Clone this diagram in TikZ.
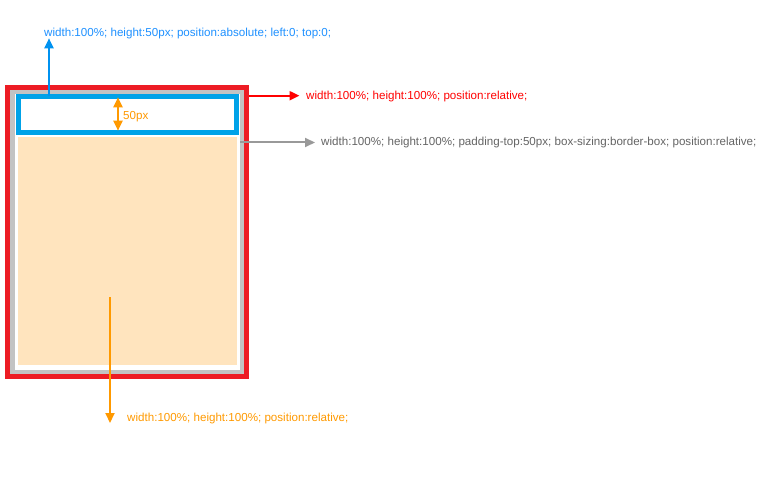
\documentclass[tikz,border=0pt]{standalone}
\usepackage{fontspec}
\setmainfont{Liberation Sans}
\usetikzlibrary{arrows.meta}
\definecolor{boxred}{RGB}{237,28,36}
\definecolor{boxgray}{RGB}{195,195,195}
\definecolor{boxblue}{RGB}{0,162,232}
\definecolor{beige}{RGB}{255,228,190}
\definecolor{arrblue}{RGB}{0,146,240}
\definecolor{txtblue}{RGB}{30,144,255}
\definecolor{arrred}{RGB}{255,0,0}
\definecolor{arrgray}{RGB}{153,153,153}
\definecolor{txtgray}{RGB}{100,100,100}
\definecolor{orange}{RGB}{255,153,0}
\tikzset{
  box/.style={rectangle, inner sep=0pt, outer sep=0pt, anchor=north west},
  tip/.style={-{Triangle[length=10pt,width=9pt]}, line width=2pt},
  dtip/.style={{Triangle[length=10pt,width=9pt]}-{Triangle[length=10pt,width=9pt]}, line width=2pt},
  lbl/.style={font=\fontsize{11.6}{13}\selectfont, inner sep=0pt, anchor=base west}
}
\begin{document}
\begin{tikzpicture}[x=1pt,y=-1pt]
      \useasboundingbox (0,0) rectangle (767,481);
      \node[box, fill=boxred, minimum width=244pt, minimum height=294pt] (wrap) at (5,85) {};
      \node[box, fill=boxgray, minimum width=234pt, minimum height=284pt] (inner) at (10,90) {};
      \node[box, fill=white, minimum width=225.5pt, minimum height=275.5pt] (page) at (14.5,94) {};
      \node[box, fill=beige, minimum width=219pt, minimum height=227.5pt] (content) at (18,137.5) {};
      \node[box, draw=boxblue, line width=5pt, minimum width=218.3pt, minimum height=36pt] (header) at (18.5,96.5) {};
      \node[lbl, text=txtblue] (headertxt) at (44,37) {width:100\%; height:50px; position:absolute; left:0; top:0;};
      \node[lbl, text=arrred] (wraptxt) at (306,99.3) {width:100\%; height:100\%; position:relative;};
      \node[lbl, text=txtgray] (innertxt) at (321,145.7) {width:100\%; height:100\%; padding-top:50px; box-sizing:border-box; position:relative;};
      \node[lbl, text=orange] (gaptxt) at (123,119.3) {50px};
      \node[lbl, text=orange] (contenttxt) at (127,421.7) {width:100\%; height:100\%; position:relative;};
      \coordinate (headerend) at (49,38.3);
      \coordinate (wrapend) at (299.5,95.7);
      \coordinate (innerend) at (315,142.5);
      \coordinate (gaptop) at (118,97.3);
      \coordinate (gapbot) at (118,130.7);
      \coordinate (contentstart) at (110,297);
      \coordinate (contentend) at (110,423);
      \begin{scope}[tip]
        \draw[arrblue] (headerend |- header.north) to (headerend);
        \draw[arrred] (wrapend -| wrap.east) to (wrapend);
        \draw[arrgray] (innerend -| page.east) to (innerend);
        \draw[orange] (contentstart) to (contentend);
      \end{scope}
      \draw[dtip, orange] (gaptop) to (gapbot);
    \end{tikzpicture}
\end{document}
